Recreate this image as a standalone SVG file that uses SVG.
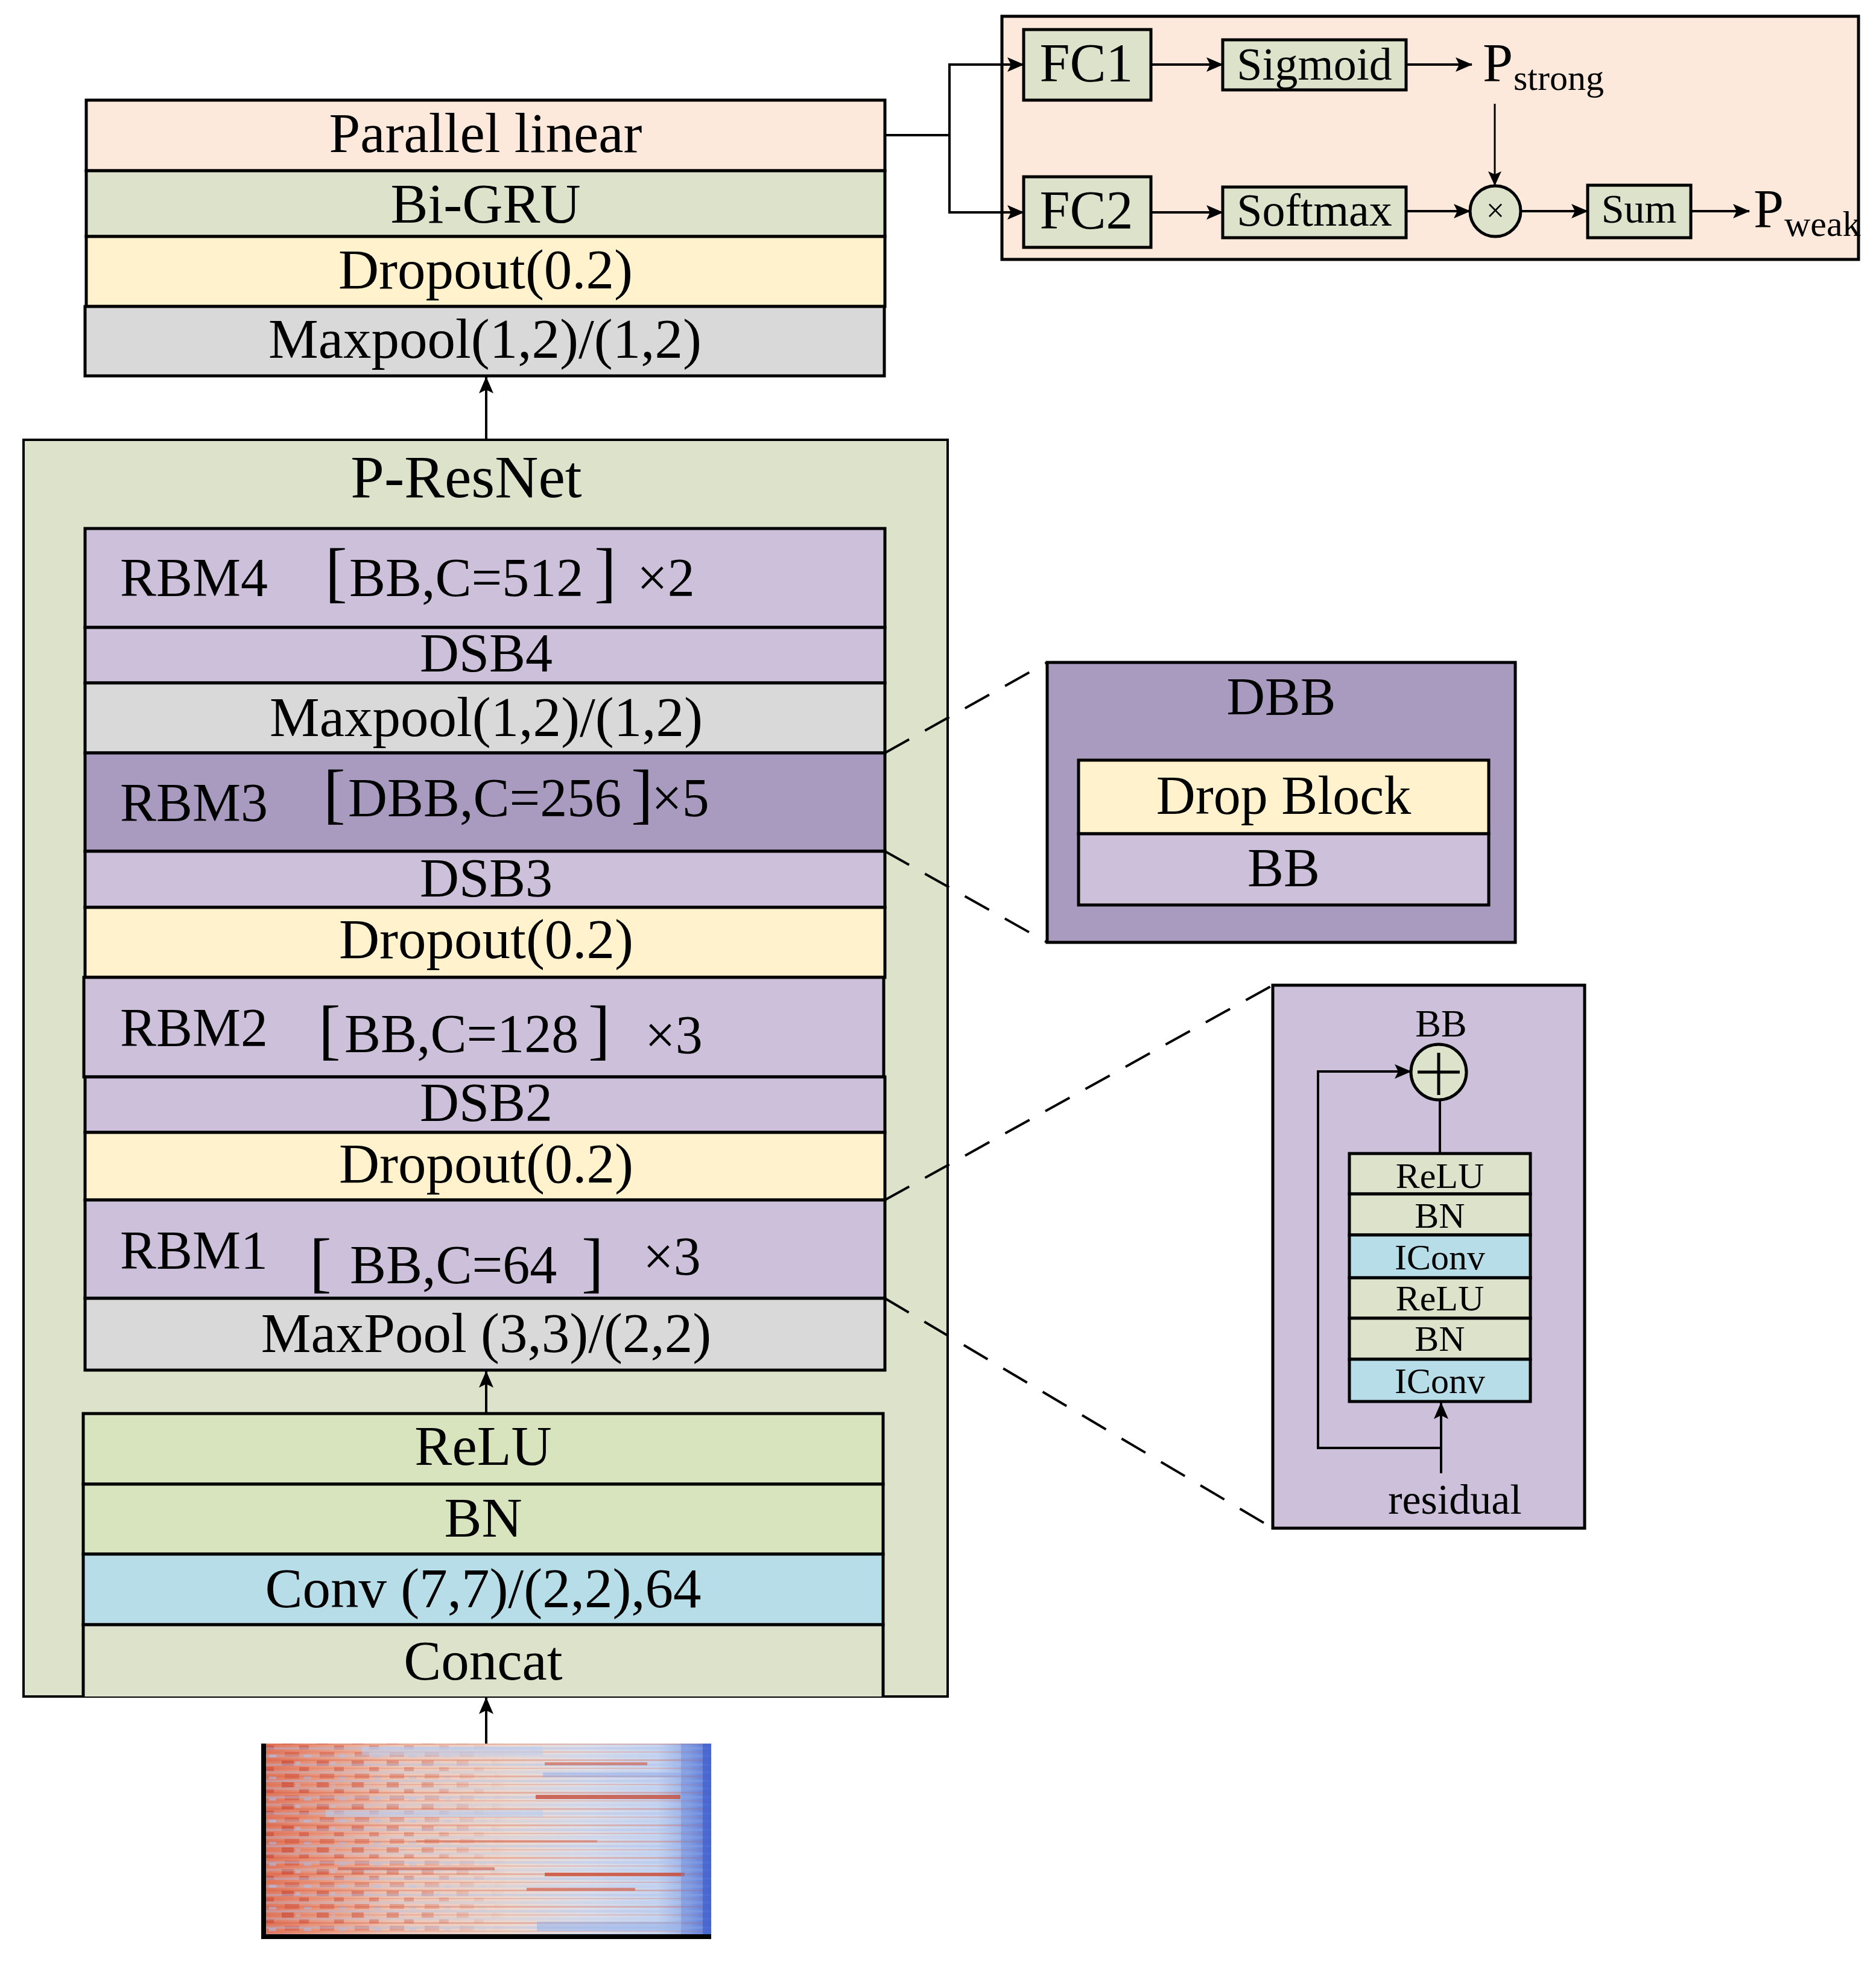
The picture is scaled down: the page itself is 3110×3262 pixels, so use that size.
<svg xmlns="http://www.w3.org/2000/svg" width="3110" height="3262" viewBox="0 0 3110 3262">
<style>
text{font-family:"Liberation Serif","Times New Roman",serif;fill:#000}
.b{stroke:#000;stroke-width:5}
.t90{font-size:90px}
.t93{font-size:93px}
.t76{font-size:76px}
.t68{font-size:60px}
.c{text-anchor:middle}
.br{font-size:110px}
.ln{fill:none;stroke:#000;stroke-width:4}
.dash{fill:none;stroke:#000;stroke-width:4;stroke-dasharray:46 30}
.peach{fill:#FCE9DB}
.olive{fill:#DDE2CB}
.yel{fill:#FFF2CC}
.gry{fill:#D9D9D9}
.lp{fill:#CCC0DA}
.dp{fill:#A99BC0}
.grn{fill:#D7E4BD}
.blu{fill:#B7DEE8}
</style>
<defs>
<marker id="ah" markerUnits="userSpaceOnUse" markerWidth="28" markerHeight="24" refX="27" refY="12" orient="auto">
<path d="M0,0 L28,12 L0,24 L6,12 z" fill="#000"/>
</marker>
<marker id="ahs" markerUnits="userSpaceOnUse" markerWidth="24" markerHeight="22" refX="23" refY="11" orient="auto">
<path d="M0,0 L24,11 L0,22 L5,11 z" fill="#000"/>
</marker>
<linearGradient id="spg" x1="0" y1="0" x2="1" y2="0">
<stop offset="0" stop-color="#DE7258"/>
<stop offset="0.12" stop-color="#E8957C"/>
<stop offset="0.3" stop-color="#EEC6B5"/>
<stop offset="0.55" stop-color="#ECD8CF"/>
<stop offset="0.72" stop-color="#DCDDE8"/>
<stop offset="0.88" stop-color="#C6D4F0"/>
<stop offset="0.95" stop-color="#93ACE6"/>
<stop offset="1" stop-color="#4567D2"/>
</linearGradient>
<linearGradient id="fade" x1="0" y1="0" x2="1" y2="0">
<stop offset="0" stop-color="#fff"/>
<stop offset="0.6" stop-color="#fff" stop-opacity="0.6"/>
<stop offset="1" stop-color="#fff" stop-opacity="0"/>
</linearGradient>
<mask id="leftmask" maskUnits="userSpaceOnUse" x="441" y="2890" width="400" height="316">
<rect x="441" y="2890" width="400" height="316" fill="url(#fade)"/>
</mask>
<pattern id="stripes" patternUnits="userSpaceOnUse" width="746" height="27">
<rect x="0" y="0" width="746" height="3" fill="#D5553C" opacity="0.3"/>
<rect x="0" y="7" width="746" height="4" fill="#A9C0EE" opacity="0.4"/>
<rect x="0" y="14" width="746" height="2" fill="#DD6B50" opacity="0.28"/>
<rect x="0" y="19" width="746" height="5" fill="#B7CBF0" opacity="0.3"/>
</pattern>
<pattern id="blots" patternUnits="userSpaceOnUse" width="58" height="36">
<rect x="3" y="2" width="20" height="9" fill="#C43A26" opacity="0.55"/>
<rect x="32" y="13" width="16" height="7" fill="#C43A26" opacity="0.5"/>
<rect x="8" y="24" width="24" height="8" fill="#CF4A33" opacity="0.5"/>
<rect x="40" y="28" width="12" height="5" fill="#A9C0EE" opacity="0.6"/>
<rect x="26" y="4" width="8" height="5" fill="#B9CCF0" opacity="0.5"/>
</pattern>
</defs>

<g id="top-stack">
<rect class="b peach" x="143" y="166" width="1324" height="117"/>
<rect class="b olive" x="143" y="283" width="1324" height="109"/>
<rect class="b yel" x="143" y="392" width="1324" height="116"/>
<rect class="b gry" x="141" y="508" width="1325" height="115"/>
<text class="t93 c" x="805" y="252">Parallel linear</text>
<text class="t93 c" x="805" y="369">Bi-GRU</text>
<text class="t93 c" x="805" y="478">Dropout(0.2)</text>
<text class="t93 c" x="804" y="593">Maxpool(1,2)/(1,2)</text>
</g>

<g id="head">
<rect class="b peach" x="1661" y="27" width="1420" height="403"/>
<g id="fc1"><rect class="b olive" x="1697" y="49" width="211" height="117"/><text class="t90 c" x="1801" y="135">FC1</text></g>
<g id="fc2"><rect class="b olive" x="1697" y="293" width="211" height="117"/><text class="t90 c" x="1801" y="379">FC2</text></g>
<g id="sigmoid"><rect class="b olive" x="2027" y="66" width="304" height="83"/><text class="t76 c" x="2179" y="132">Sigmoid</text></g>
<g id="softmax"><rect class="b olive" x="2027" y="310" width="304" height="84"/><text class="t76 c" x="2179" y="374">Softmax</text></g>
<g id="mul"><circle class="b olive" cx="2479" cy="350" r="42"/><text class="c" style="font-size:54px" x="2479" y="367">×</text></g>
<g id="sum"><rect class="b olive" x="2632" y="307" width="171" height="87"/><text class="c" style="font-size:68px" x="2717" y="369">Sum</text></g>
<g id="pstrong"><text class="t90" x="2458" y="135">P</text><text style="font-size:60px" x="2509" y="149">strong</text></g>
<g id="pweak"><text class="t90" x="2907" y="377">P</text><text style="font-size:60px" x="2958" y="391">weak</text></g>
</g>

<g id="presnet">
<rect class="olive" x="39" y="729" width="1532" height="2083" stroke="#000" stroke-width="4"/>
<text class="c" style="font-size:100px" x="773" y="824">P-ResNet</text>
</g>

<g id="rbm4"><rect class="b lp" x="141" y="876" width="1326" height="164"/>
<text class="t90" x="199" y="988">RBM4</text><text class="br" x="539" y="985">[</text><text class="t90" x="579" y="988">BB,C=512</text><text class="br" x="985" y="985">]</text><text class="t90" x="1056" y="988">×2</text></g>
<g id="dsb4"><rect class="b lp" x="141" y="1040" width="1326" height="92"/><text class="t90 c" x="806" y="1113">DSB4</text></g>
<g id="maxpool2"><rect class="b gry" x="141" y="1132" width="1326" height="116"/><text class="t93 c" x="806" y="1220">Maxpool(1,2)/(1,2)</text></g>
<g id="rbm3"><rect class="b dp" x="141" y="1248" width="1326" height="163"/>
<text class="t90" x="199" y="1361">RBM3</text><text class="br" x="536" y="1352">[</text><text class="t90" x="577" y="1353">DBB,C=256</text><text class="br" x="1046" y="1352">]</text><text class="t90" x="1080" y="1353">×5</text></g>
<g id="dsb3"><rect class="b lp" x="141" y="1411" width="1326" height="93"/><text class="t90 c" x="806" y="1486">DSB3</text></g>
<g id="dropout2"><rect class="b yel" x="141" y="1504" width="1326" height="116"/><text class="t93 c" x="806" y="1588">Dropout(0.2)</text></g>
<g id="rbm2"><rect class="b lp" x="139" y="1620" width="1326" height="165"/>
<text class="t90" x="199" y="1734">RBM2</text><text class="br" x="528" y="1743">[</text><text class="t90" x="571" y="1744">BB,C=128</text><text class="br" x="975" y="1743">]</text><text class="t90" x="1069" y="1746">×3</text></g>
<g id="dsb2"><rect class="b lp" x="141" y="1785" width="1326" height="92"/><text class="t90 c" x="806" y="1858">DSB2</text></g>
<g id="dropout3"><rect class="b yel" x="141" y="1877" width="1326" height="112"/><text class="t93 c" x="806" y="1960">Dropout(0.2)</text></g>
<g id="rbm1"><rect class="b lp" x="141" y="1989" width="1326" height="163"/>
<text class="t90" x="199" y="2103">RBM1</text><text class="br" x="513" y="2129">[</text><text class="t90" x="580" y="2127">BB,C=64</text><text class="br" x="964" y="2129">]</text><text class="t90" x="1066" y="2113">×3</text></g>
<g id="maxpool3"><rect class="b gry" x="141" y="2152" width="1326" height="119"/><text class="t93 c" x="806" y="2241">MaxPool (3,3)/(2,2)</text></g>

<g id="stem">
<rect class="b grn" x="138" y="2343" width="1326" height="117"/>
<rect class="b grn" x="138" y="2460" width="1326" height="116"/>
<rect class="b blu" x="138" y="2576" width="1326" height="117"/>
<path class="olive" d="M138,2693 H1464 V2812 H138 z"/>
<path d="M138,2812 V2693 H1464 V2812" fill="none" stroke="#000" stroke-width="5"/>
<text class="t93 c" x="801" y="2428">ReLU</text>
<text class="t93 c" x="801" y="2547">BN</text>
<text class="t93 c" x="801" y="2664">Conv (7,7)/(2,2),64</text>
<text class="t93 c" x="801" y="2784">Concat</text>
</g>

<g id="spectrogram">
<rect x="433" y="2890" width="746" height="324" fill="url(#spg)"/>
<rect x="441" y="2890" width="400" height="316" fill="url(#blots)" mask="url(#leftmask)"/>
<rect x="433" y="2890" width="746" height="316" fill="url(#stripes)"/>
<rect x="600" y="2895" width="300" height="14" fill="#BACDF0" opacity="0.6"/>
<rect x="540" y="3000" width="360" height="12" fill="#BACDF0" opacity="0.55"/>
<rect x="888" y="2975" width="240" height="7" fill="#C9462E" opacity="0.75"/>
<rect x="903" y="3104" width="232" height="6" fill="#C9462E" opacity="0.75"/>
<rect x="873" y="3129" width="180" height="5" fill="#D0533A" opacity="0.6"/>
<rect x="903" y="2921" width="170" height="5" fill="#D0533A" opacity="0.6"/>
<rect x="690" y="3050" width="300" height="4" fill="#D56048" opacity="0.45"/>
<rect x="560" y="3095" width="260" height="5" fill="#C9462E" opacity="0.5"/>
<rect x="900" y="2938" width="230" height="8" fill="#8FAAE8" opacity="0.5"/>
<rect x="890" y="3185" width="240" height="16" fill="#98B2EA" opacity="0.55"/>
<rect x="1129" y="2890" width="50" height="316" fill="#6A88DC" opacity="0.45"/>
<rect x="1165" y="2890" width="14" height="316" fill="#3F5FCF" opacity="0.7"/>
<rect x="433" y="2890" width="8" height="324" fill="#000"/>
<rect x="433" y="3206" width="746" height="8" fill="#000"/>
</g>

<g id="dbb">
<rect class="b dp" x="1736" y="1098" width="776" height="464"/>
<text class="c" style="font-size:88px" x="2124" y="1184">DBB</text>
<rect class="b yel" x="1788" y="1260" width="680" height="122"/>
<rect class="b lp" x="1788" y="1382" width="680" height="118"/>
<text class="t90 c" x="2128" y="1349">Drop Block</text>
<text class="t90 c" x="2128" y="1469">BB</text>
</g>

<g id="bb">
<rect class="b lp" x="2110" y="1633" width="517" height="900"/>
<text class="c" style="font-size:64px" x="2389" y="1718">BB</text>
<circle class="b olive" cx="2385" cy="1777" r="46"/>
<path d="M2350,1777 H2420 M2385,1745 V1815" stroke="#000" stroke-width="5"/>
<rect class="b olive" x="2237" y="1912" width="300" height="67"/>
<rect class="b olive" x="2237" y="1979" width="300" height="68"/>
<rect class="b blu" x="2237" y="2047" width="300" height="71"/>
<rect class="b olive" x="2237" y="2118" width="300" height="67"/>
<rect class="b olive" x="2237" y="2185" width="300" height="68"/>
<rect class="b blu" x="2237" y="2253" width="300" height="70"/>
<text class="t68 c" x="2387" y="1969">ReLU</text>
<text class="t68 c" x="2387" y="2035">BN</text>
<text class="t68 c" x="2387" y="2104">IConv</text>
<text class="t68 c" x="2387" y="2172">ReLU</text>
<text class="t68 c" x="2387" y="2239">BN</text>
<text class="t68 c" x="2387" y="2309">IConv</text>
<text class="c" style="font-size:70px" x="2412" y="2509">residual</text>
</g>

<g id="connectors">
<line class="ln" x1="806" y1="729" x2="806" y2="625" marker-end="url(#ah)"/>
<line class="ln" x1="806" y1="2343" x2="806" y2="2273" marker-end="url(#ah)"/>
<line class="ln" x1="806" y1="2890" x2="806" y2="2814" marker-end="url(#ah)"/>
<path class="ln" d="M1467,224 H1574 M1574,107 V352"/>
<line class="ln" x1="1572" y1="107" x2="1697" y2="107" marker-end="url(#ah)"/>
<line class="ln" x1="1572" y1="352" x2="1697" y2="352" marker-end="url(#ah)"/>
<line class="ln" x1="1908" y1="107" x2="2027" y2="107" marker-end="url(#ah)"/>
<line class="ln" x1="1908" y1="352" x2="2027" y2="352" marker-end="url(#ah)"/>
<line class="ln" x1="2331" y1="107" x2="2440" y2="107" marker-end="url(#ah)"/>
<line x1="2478" y1="172" x2="2478" y2="307" stroke="#000" stroke-width="3" marker-end="url(#ahs)"/>
<line class="ln" x1="2331" y1="350" x2="2437" y2="350" marker-end="url(#ah)"/>
<line class="ln" x1="2521" y1="350" x2="2632" y2="350" marker-end="url(#ah)"/>
<line class="ln" x1="2803" y1="350" x2="2900" y2="350" marker-end="url(#ah)"/>
<line class="dash" x1="1467" y1="1248" x2="1736" y2="1098"/>
<line class="dash" x1="1467" y1="1411" x2="1736" y2="1562"/>
<line class="dash" x1="1467" y1="1989" x2="2110" y2="1633"/>
<line class="dash" x1="1467" y1="2152" x2="2110" y2="2533"/>
<line class="ln" x1="2387" y1="1823" x2="2387" y2="1912"/>
<line class="ln" x1="2389" y1="2442" x2="2389" y2="2325" marker-end="url(#ah)"/>
<path class="ln" d="M2389,2400 H2185 V1776 H2339" marker-end="url(#ah)"/>
</g>
</svg>
